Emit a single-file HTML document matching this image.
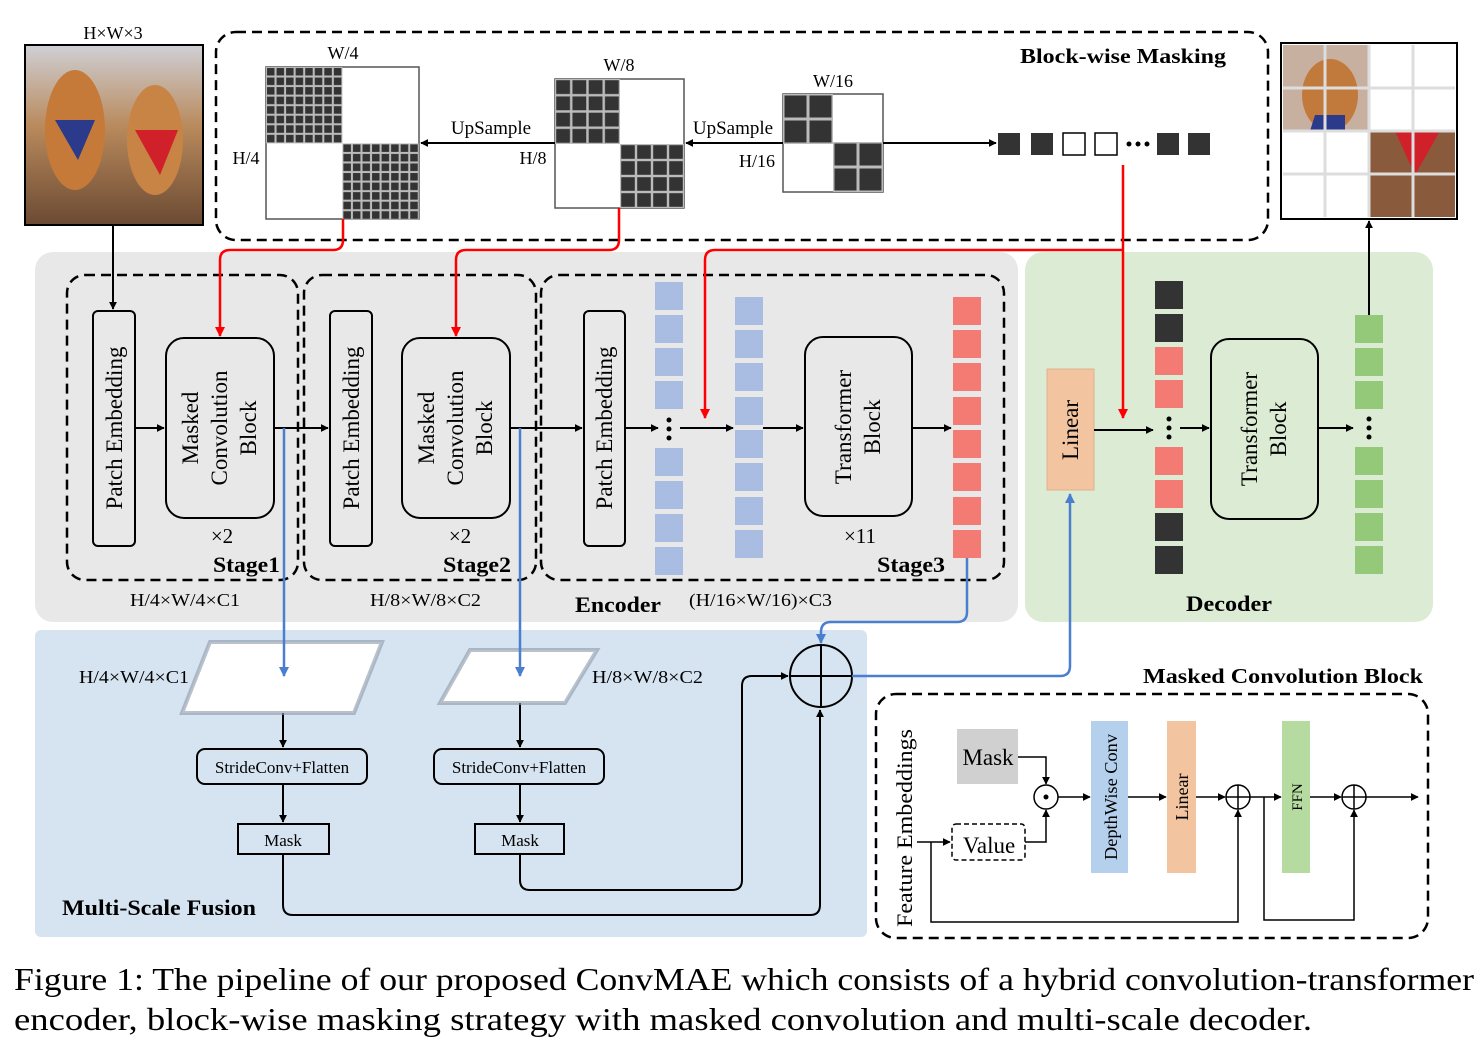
<!DOCTYPE html>
<html><head><meta charset="utf-8"><style>
html,body{margin:0;padding:0;background:#fff;}
svg{display:block;font-family:"Liberation Serif",serif;}
</style></head><body>
<svg width="1482" height="1050" viewBox="0 0 1482 1050" xmlns="http://www.w3.org/2000/svg">
<defs>
<marker id="ab" viewBox="0 0 10 10" refX="9" refY="5" markerWidth="8" markerHeight="8" orient="auto-start-reverse" markerUnits="userSpaceOnUse"><path d="M0,0L10,5L0,10z" fill="#000"/></marker>
<marker id="ar" viewBox="0 0 10 10" refX="9" refY="5" markerWidth="10" markerHeight="12" orient="auto" markerUnits="userSpaceOnUse"><path d="M0,0L10,5L0,10z" fill="#f00"/></marker>
<marker id="abl" viewBox="0 0 10 10" refX="9" refY="5" markerWidth="10" markerHeight="12" orient="auto" markerUnits="userSpaceOnUse"><path d="M0,0L10,5L0,10z" fill="#4a7fd0"/></marker>
<pattern id="g4a" x="266" y="67" width="9.55" height="9.55" patternUnits="userSpaceOnUse"><rect width="9.55" height="9.55" fill="#bbb"/><rect x="1" y="1" width="7.5" height="7.5" fill="#333"/></pattern>
<pattern id="g4b" x="342.4" y="143.4" width="9.55" height="9.55" patternUnits="userSpaceOnUse"><rect width="9.55" height="9.55" fill="#bbb"/><rect x="1" y="1" width="7.5" height="7.5" fill="#333"/></pattern>
<pattern id="g8a" x="555" y="79" width="16.25" height="16.25" patternUnits="userSpaceOnUse"><rect width="16.25" height="16.25" fill="#bbb"/><rect x="1.2" y="1.2" width="13.8" height="13.8" fill="#333"/></pattern>
<pattern id="g8b" x="620" y="144" width="16" height="16" patternUnits="userSpaceOnUse"><rect width="16" height="16" fill="#bbb"/><rect x="1.2" y="1.2" width="13.6" height="13.6" fill="#333"/></pattern>
<pattern id="g16a" x="783" y="94" width="25" height="25" patternUnits="userSpaceOnUse"><rect width="25" height="25" fill="#bbb"/><rect x="1.5" y="1.5" width="22" height="22" fill="#333"/></pattern>
<pattern id="g16b" x="833" y="142" width="25" height="25" patternUnits="userSpaceOnUse"><rect width="25" height="25" fill="#bbb"/><rect x="1.5" y="1.5" width="22" height="22" fill="#333"/></pattern>
<linearGradient id="dog" x1="0" y1="0" x2="0" y2="1"><stop offset="0" stop-color="#cfd0d6"/><stop offset="0.45" stop-color="#b98a5c"/><stop offset="1" stop-color="#6b4a33"/></linearGradient>
</defs>

<!-- input image -->
<text x="113" y="39" font-size="18" text-anchor="middle">H×W×3</text>
<rect x="25" y="45" width="178" height="180" fill="url(#dog)" stroke="#000" stroke-width="2"/>
<ellipse cx="75" cy="130" rx="30" ry="60" fill="#c57a3a"/>
<ellipse cx="155" cy="140" rx="28" ry="55" fill="#c88445"/>
<path d="M55,120 L95,120 L78,160z" fill="#2b3a8a"/>
<path d="M135,130 L178,130 L160,175z" fill="#d0202a"/>

<!-- block-wise masking -->
<rect x="216" y="32" width="1052" height="208" rx="20" fill="none" stroke="#000" stroke-width="2.5" stroke-dasharray="10,6"/>
<text x="1020" y="63" font-size="21" font-weight="bold" textLength="206" lengthAdjust="spacingAndGlyphs">Block-wise Masking</text>
<text x="343" y="59" font-size="18" text-anchor="middle">W/4</text>
<rect x="266" y="67" width="153" height="152" fill="#fff" stroke="#555" stroke-width="1.5"/>
<rect x="266" y="67" width="76.4" height="76.4" fill="url(#g4a)"/>
<rect x="342.4" y="143.4" width="76.4" height="76" fill="url(#g4b)"/>
<text x="246" y="164" font-size="18" text-anchor="middle">H/4</text>
<text x="619" y="71" font-size="18" text-anchor="middle">W/8</text>
<rect x="555" y="79" width="129" height="129" fill="#fff" stroke="#555" stroke-width="1.5"/>
<rect x="555" y="79" width="65" height="65" fill="url(#g8a)"/>
<rect x="620" y="144" width="64" height="64" fill="url(#g8b)"/>
<text x="533" y="164" font-size="18" text-anchor="middle">H/8</text>
<text x="833" y="87" font-size="18" text-anchor="middle">W/16</text>
<rect x="783" y="94" width="100" height="98" fill="#fff" stroke="#555" stroke-width="1.5"/>
<rect x="783" y="94" width="50" height="50" fill="url(#g16a)"/>
<rect x="833" y="142" width="50" height="50" fill="url(#g16b)"/>
<text x="757" y="167" font-size="18" text-anchor="middle">H/16</text>
<line x1="555" y1="143" x2="421" y2="143" stroke="#000" stroke-width="2" marker-end="url(#ab)"/>
<text x="491" y="134" font-size="19" text-anchor="middle">UpSample</text>
<line x1="783" y1="143" x2="686" y2="143" stroke="#000" stroke-width="2" marker-end="url(#ab)"/>
<text x="733" y="134" font-size="19" text-anchor="middle">UpSample</text>
<line x1="883" y1="143" x2="996" y2="143" stroke="#000" stroke-width="2" marker-end="url(#ab)"/>
<rect x="998" y="133" width="22" height="22" fill="#333"/>
<rect x="1031" y="133" width="22" height="22" fill="#333"/>
<rect x="1063" y="133" width="22" height="22" fill="#fff" stroke="#000" stroke-width="1.5"/>
<rect x="1095" y="133" width="22" height="22" fill="#fff" stroke="#000" stroke-width="1.5"/>
<circle cx="1129" cy="144" r="2.5"/><circle cx="1138" cy="144" r="2.5"/><circle cx="1147" cy="144" r="2.5"/>
<rect x="1157" y="133" width="22" height="22" fill="#333"/>
<rect x="1188" y="133" width="22" height="22" fill="#333"/>

<!-- output image -->
<rect x="1281" y="43" width="176" height="176" fill="#fff" stroke="#000" stroke-width="2"/>
<rect x="1283" y="45" width="86" height="86" fill="#c8b0a0"/>
<ellipse cx="1330" cy="95" rx="28" ry="36" fill="#c27a3c"/>
<rect x="1369" y="131" width="86" height="86" fill="#8a5a3c"/>
<path d="M1395,131 L1440,131 L1415,175z" fill="#d0202a"/>
<path d="M1315,115 L1345,115 L1345,131 L1310,131z" fill="#2b3a8a"/>
<g stroke="#ddd" stroke-width="3">
<line x1="1325" y1="45" x2="1325" y2="217"/><line x1="1369" y1="45" x2="1369" y2="217"/><line x1="1413" y1="45" x2="1413" y2="217"/>
<line x1="1283" y1="88" x2="1455" y2="88"/><line x1="1283" y1="131" x2="1455" y2="131"/><line x1="1283" y1="174" x2="1455" y2="174"/>
</g>

<!-- backgrounds -->
<rect x="35" y="252" width="983" height="370" rx="18" fill="#e8e8e8"/>
<rect x="1025" y="252" width="408" height="370" rx="18" fill="#dcebd3"/>
<rect x="35" y="630" width="832" height="307" rx="6" fill="#d6e4f2"/>

<g fill="none" stroke="#000" stroke-width="2.5" stroke-dasharray="10,6">
<rect x="67" y="275" width="231" height="305" rx="18"/>
<rect x="304" y="275" width="232" height="305" rx="18"/>
<rect x="541" y="275" width="463" height="305" rx="18"/>
</g>

<g fill="none" stroke="#000" stroke-width="2">
<rect x="93" y="311" width="42" height="235" rx="5"/>
<rect x="166" y="338" width="108" height="180" rx="18"/>
<rect x="330" y="311" width="42" height="235" rx="5"/>
<rect x="402" y="338" width="108" height="180" rx="18"/>
<rect x="584" y="311" width="41" height="235" rx="5"/>
<rect x="805" y="337" width="107" height="179" rx="18"/>
<rect x="1211" y="339" width="107" height="180" rx="18"/>
</g>
<g font-size="23" text-anchor="middle">
<text transform="translate(122,428) rotate(-90)">Patch Embedding</text>
<text transform="translate(359,428) rotate(-90)">Patch Embedding</text>
<text transform="translate(612,428) rotate(-90)">Patch Embedding</text>
<text transform="translate(198,428) rotate(-90)">Masked</text>
<text transform="translate(227,428) rotate(-90)">Convolution</text>
<text transform="translate(256,428) rotate(-90)">Block</text>
<text transform="translate(434,428) rotate(-90)">Masked</text>
<text transform="translate(463,428) rotate(-90)">Convolution</text>
<text transform="translate(492,428) rotate(-90)">Block</text>
<text transform="translate(851,427) rotate(-90)">Transformer</text>
<text transform="translate(880,427) rotate(-90)">Block</text>
<text transform="translate(1257,429) rotate(-90)">Transformer</text>
<text transform="translate(1286,429) rotate(-90)">Block</text>
</g>
<g font-size="21" text-anchor="middle">
<text x="222" y="543">×2</text><text x="460" y="543">×2</text><text x="860" y="543">×11</text>
</g>
<g font-size="18">
<text x="130" y="606" textLength="110" lengthAdjust="spacingAndGlyphs">H/4×W/4×C1</text>
<text x="370" y="606" textLength="111" lengthAdjust="spacingAndGlyphs">H/8×W/8×C2</text>
<text x="689" y="606" textLength="143" lengthAdjust="spacingAndGlyphs">(H/16×W/16)×C3</text>
</g>
<g font-size="22" font-weight="bold">
<text x="213" y="572" textLength="67" lengthAdjust="spacingAndGlyphs">Stage1</text>
<text x="443" y="572" textLength="68" lengthAdjust="spacingAndGlyphs">Stage2</text>
<text x="877" y="572" textLength="68" lengthAdjust="spacingAndGlyphs">Stage3</text>
<text x="575" y="612" textLength="86" lengthAdjust="spacingAndGlyphs">Encoder</text>
<text x="1186" y="611" textLength="86" lengthAdjust="spacingAndGlyphs">Decoder</text>
<text x="62" y="915" textLength="194" lengthAdjust="spacingAndGlyphs">Multi-Scale Fusion</text>
</g>

<!-- token columns -->
<g fill="#a9bde3">
<rect x="655" y="282" width="28" height="28"/><rect x="655" y="315" width="28" height="28"/><rect x="655" y="348" width="28" height="28"/><rect x="655" y="381" width="28" height="28"/>
<rect x="655" y="448" width="28" height="28"/><rect x="655" y="481" width="28" height="28"/><rect x="655" y="514" width="28" height="28"/><rect x="655" y="547" width="28" height="28"/>
<rect x="735" y="297" width="28" height="28"/><rect x="735" y="330" width="28" height="28"/><rect x="735" y="363" width="28" height="28"/><rect x="735" y="397" width="28" height="28"/>
<rect x="735" y="430" width="28" height="28"/><rect x="735" y="463" width="28" height="28"/><rect x="735" y="497" width="28" height="28"/><rect x="735" y="530" width="28" height="28"/>
</g>
<g fill="#f47a74">
<rect x="953" y="297" width="28" height="28"/><rect x="953" y="330" width="28" height="28"/><rect x="953" y="363" width="28" height="28"/><rect x="953" y="397" width="28" height="28"/>
<rect x="953" y="430" width="28" height="28"/><rect x="953" y="463" width="28" height="28"/><rect x="953" y="497" width="28" height="28"/><rect x="953" y="530" width="28" height="28"/>
<rect x="1155" y="347" width="28" height="28"/><rect x="1155" y="380" width="28" height="28"/><rect x="1155" y="447" width="28" height="28"/><rect x="1155" y="480" width="28" height="28"/>
</g>
<g fill="#333">
<rect x="1155" y="281" width="28" height="28"/><rect x="1155" y="314" width="28" height="28"/><rect x="1155" y="513" width="28" height="28"/><rect x="1155" y="546" width="28" height="28"/>
</g>
<g fill="#95c97a">
<rect x="1355" y="315" width="28" height="28"/><rect x="1355" y="348" width="28" height="28"/><rect x="1355" y="381" width="28" height="28"/>
<rect x="1355" y="447" width="28" height="28"/><rect x="1355" y="480" width="28" height="28"/><rect x="1355" y="513" width="28" height="28"/><rect x="1355" y="546" width="28" height="28"/>
</g>
<g>
<circle cx="669" cy="420" r="2.5"/><circle cx="669" cy="429" r="2.5"/><circle cx="669" cy="438" r="2.5"/>
<circle cx="1169" cy="419" r="2.5"/><circle cx="1169" cy="428" r="2.5"/><circle cx="1169" cy="437" r="2.5"/>
<circle cx="1369" cy="419" r="2.5"/><circle cx="1369" cy="428" r="2.5"/><circle cx="1369" cy="437" r="2.5"/>
</g>
<rect x="1047" y="369" width="47" height="121" fill="#f3c4a0" stroke="#e0b090"/>
<text transform="translate(1078,430) rotate(-90)" font-size="23" text-anchor="middle">Linear</text>

<!-- black arrows -->
<g stroke="#000" stroke-width="2" marker-end="url(#ab)">
<line x1="113" y1="225" x2="113" y2="309"/>
<line x1="135" y1="428" x2="164" y2="428"/>
<line x1="274" y1="428" x2="328" y2="428"/>
<line x1="510" y1="428" x2="582" y2="428"/>
<line x1="625" y1="428" x2="658" y2="428"/>
<line x1="680" y1="428" x2="733" y2="428"/>
<line x1="763" y1="428" x2="803" y2="428"/>
<line x1="912" y1="428" x2="951" y2="428"/>
<line x1="1094" y1="430" x2="1153" y2="430"/>
<line x1="1180" y1="428" x2="1209" y2="428"/>
<line x1="1318" y1="428" x2="1353" y2="428"/>
<line x1="1369" y1="315" x2="1369" y2="221"/>
<line x1="283" y1="713" x2="283" y2="747"/>
<line x1="283" y1="784" x2="283" y2="822"/>
<line x1="520" y1="703" x2="520" y2="747"/>
<line x1="520" y1="784" x2="520" y2="822"/>
</g>

<!-- red lines -->
<g fill="none" stroke="#f00" stroke-width="2.5">
<path d="M343,219 V240 Q343,250 333,250 H230 Q220,250 220,260 V336" marker-end="url(#ar)"/>
<path d="M619,208 V240 Q619,250 609,250 H466 Q456,250 456,260 V336" marker-end="url(#ar)"/>
<path d="M1123,165 V418" marker-end="url(#ar)"/>
<path d="M1123,250 H715 Q705,250 705,260 V418" marker-end="url(#ar)"/>
</g>

<!-- multi-scale fusion -->
<polygon points="210,642 382,642 354,713 182,713" fill="#fff" stroke="#8a97a8" stroke-width="4" stroke-opacity="0.6"/>
<polygon points="470,650 597,650 565,703 440,703" fill="#fff" stroke="#8a97a8" stroke-width="4" stroke-opacity="0.6"/>
<text x="79" y="683" font-size="18" textLength="110" lengthAdjust="spacingAndGlyphs">H/4×W/4×C1</text>
<text x="592" y="683" font-size="18" textLength="111" lengthAdjust="spacingAndGlyphs">H/8×W/8×C2</text>
<g fill="none" stroke="#000" stroke-width="2">
<rect x="197" y="749" width="170" height="35" rx="8"/>
<rect x="434" y="749" width="170" height="35" rx="8"/>
<rect x="238" y="824" width="91" height="30"/>
<rect x="475" y="824" width="89" height="30"/>
<circle cx="821" cy="676" r="31"/>
<line x1="790" y1="676" x2="852" y2="676"/><line x1="821" y1="645" x2="821" y2="707"/>
<path d="M283,854 V905 Q283,915 293,915 H810 Q820,915 820,905 V710" marker-end="url(#ab)"/>
<path d="M520,854 V880 Q520,890 530,890 H732 Q742,890 742,880 V686 Q742,676 752,676 H788" marker-end="url(#ab)"/>
</g>
<g font-size="17" text-anchor="middle">
<text x="282" y="773">StrideConv+Flatten</text><text x="519" y="773">StrideConv+Flatten</text>
<text x="283" y="846">Mask</text><text x="520" y="846">Mask</text>
</g>

<!-- blue lines -->
<g fill="none" stroke="#4a7fd0" stroke-width="2.5">
<path d="M284,428 V676" marker-end="url(#abl)"/>
<path d="M520,428 V676" marker-end="url(#abl)"/>
<path d="M967,558 V612 Q967,622 957,622 H831 Q821,622 821,632 V643" marker-end="url(#abl)"/>
<path d="M852,676 H1060 Q1070,676 1070,666 V494" marker-end="url(#abl)"/>
</g>

<!-- masked conv block detail -->
<text x="1143" y="683" font-size="21" font-weight="bold" textLength="280" lengthAdjust="spacingAndGlyphs">Masked Convolution Block</text>
<rect x="876" y="694" width="552" height="244" rx="20" fill="none" stroke="#000" stroke-width="2.5" stroke-dasharray="10,6"/>
<text transform="translate(912,828) rotate(-90)" font-size="22" text-anchor="middle" textLength="198" lengthAdjust="spacingAndGlyphs">Feature Embeddings</text>
<rect x="957" y="729" width="61" height="55" fill="#d0d0d0"/>
<text x="988" y="765" font-size="23" text-anchor="middle">Mask</text>
<rect x="952" y="824" width="73" height="36" rx="4" fill="#fff" stroke="#000" stroke-width="1.5" stroke-dasharray="5,3"/>
<text x="989" y="853" font-size="23" text-anchor="middle">Value</text>
<rect x="1091" y="721" width="37" height="152" fill="#b5d0ec"/>
<text transform="translate(1117,797) rotate(-90)" font-size="18" text-anchor="middle" textLength="126" lengthAdjust="spacingAndGlyphs">DepthWise Conv</text>
<rect x="1167" y="721" width="29" height="152" fill="#f3c4a0"/>
<text transform="translate(1188,797) rotate(-90)" font-size="18" text-anchor="middle">Linear</text>
<rect x="1282" y="721" width="28" height="152" fill="#b6dba0"/>
<text transform="translate(1302,797) rotate(-90)" font-size="15" text-anchor="middle">FFN</text>
<g fill="none" stroke="#000" stroke-width="1.5">
<circle cx="1046" cy="797" r="12"/>
<circle cx="1238" cy="797" r="12"/><line x1="1226" y1="797" x2="1250" y2="797"/><line x1="1238" y1="785" x2="1238" y2="809"/>
<circle cx="1354" cy="797" r="12"/><line x1="1342" y1="797" x2="1366" y2="797"/><line x1="1354" y1="785" x2="1354" y2="809"/>
</g>
<circle cx="1046" cy="797" r="2.5"/>
<g fill="none" stroke="#000" stroke-width="1.5" marker-end="url(#ab)">
<path d="M1018,757 H1046 V784"/>
<path d="M1025,842 H1046 V810"/>
<path d="M917,842 H950"/>
<path d="M1058,797 H1090"/>
<path d="M1128,797 H1166"/>
<path d="M1196,797 H1225"/>
<path d="M1250,797 H1281"/>
<path d="M1310,797 H1341"/>
<path d="M1366,797 H1418"/>
<path d="M931,842 V922 H1238 V810"/>
<path d="M1264,797 V920 H1354 V810"/>
</g>

<!-- caption -->
<text x="14" y="990" font-size="32" textLength="1460" lengthAdjust="spacingAndGlyphs">Figure 1: The pipeline of our proposed ConvMAE which consists of a hybrid convolution-transformer</text>
<text x="14" y="1030" font-size="32" textLength="1298" lengthAdjust="spacingAndGlyphs">encoder, block-wise masking strategy with masked convolution and multi-scale decoder.</text>
</svg>
</body></html>
